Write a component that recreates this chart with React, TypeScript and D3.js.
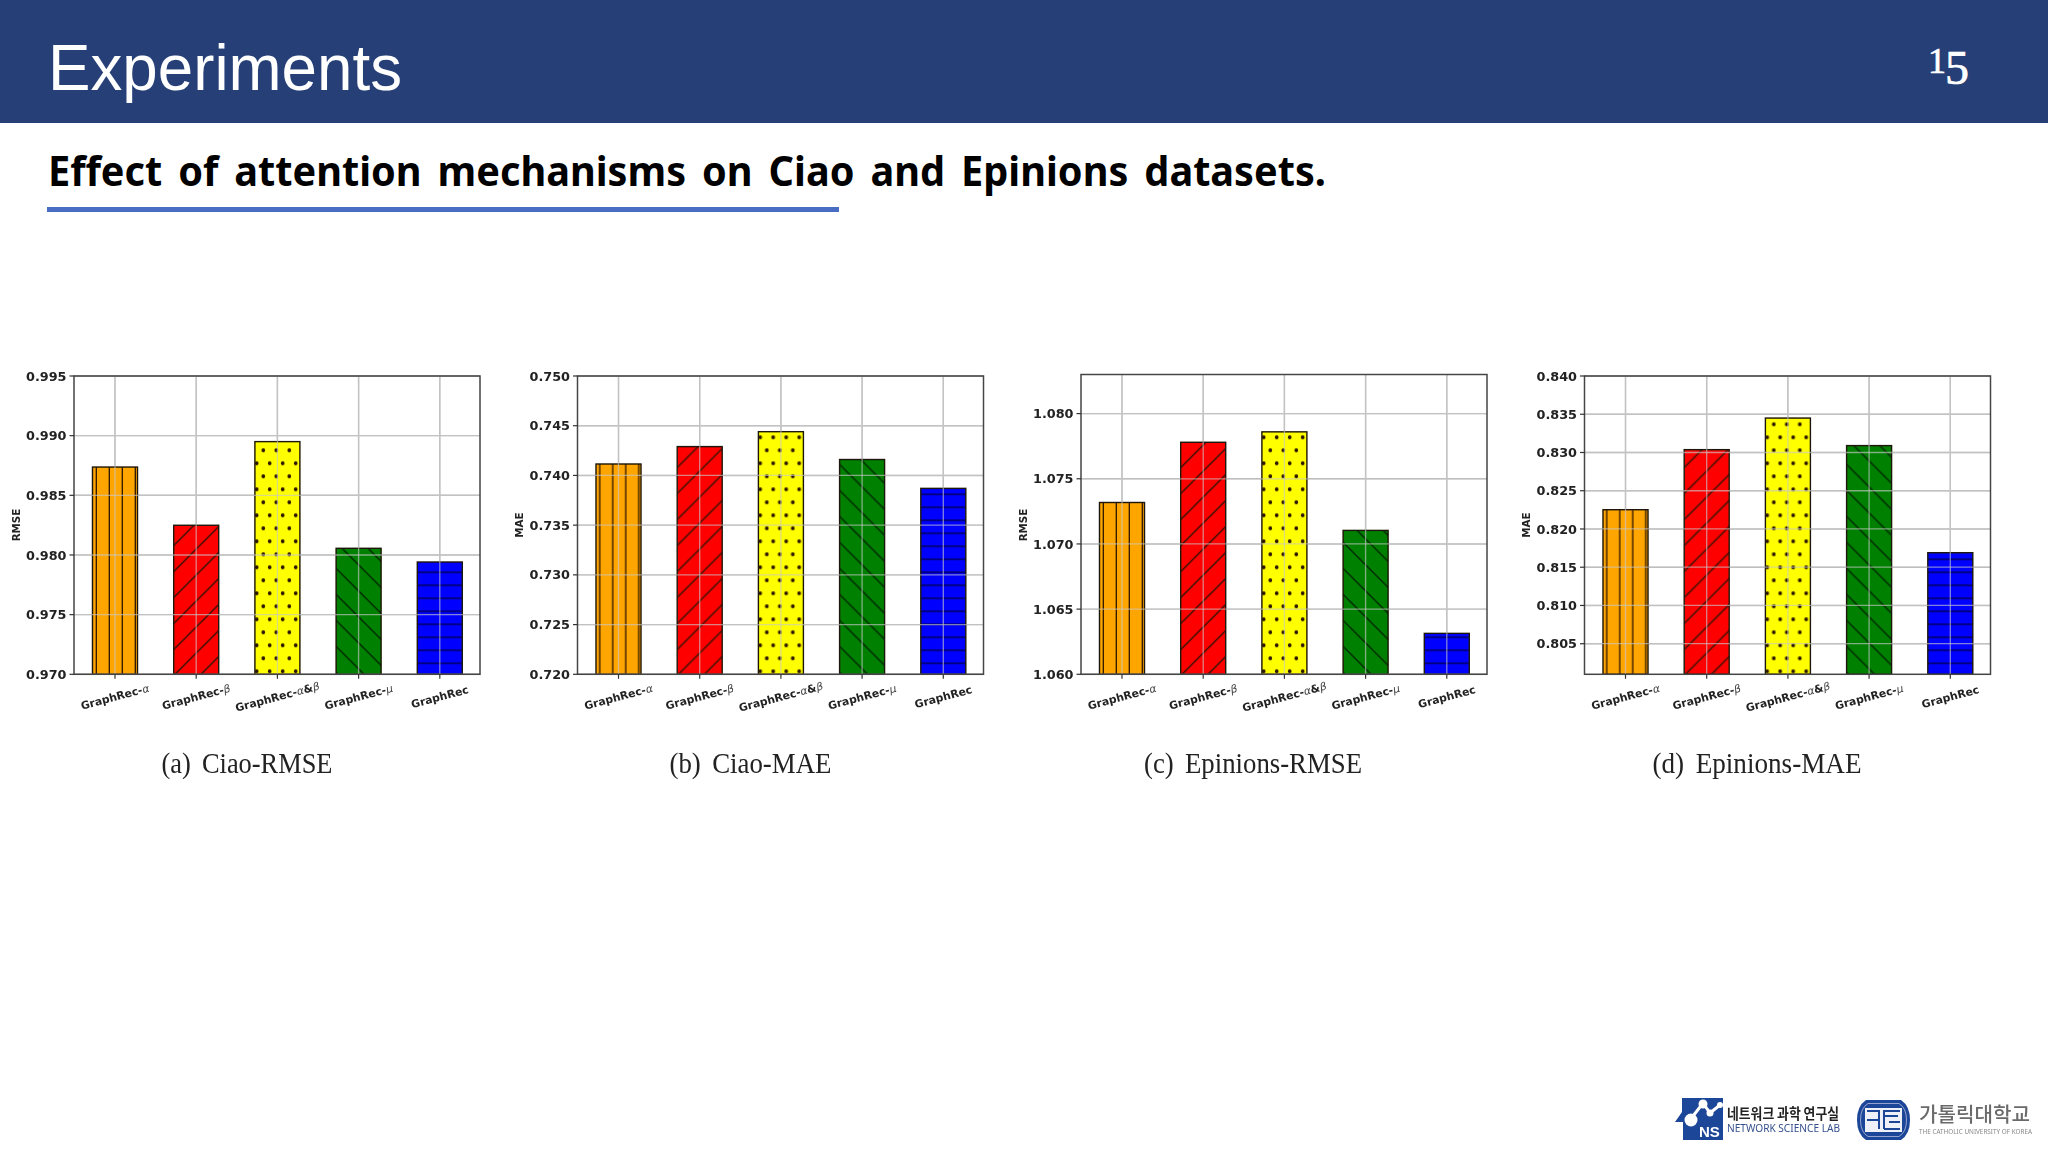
import React from "react";
import * as d3 from "d3";

const categories = ["α", "β", "α&β", "μ", ""];
const barFills = ["#ffa500", "#ff0000", "#ffff00", "#008000", "#0000ff"];
const hatchIds = ["hV", "hF", "hD", "hB", "hH"];

const ciaoRmse = [0.98737, 0.98249, 0.9895, 0.98056, 0.97941];
const ciaoMae = [0.74115, 0.7429, 0.7444, 0.7416, 0.7387];
const epinionsRmse = [1.07318, 1.0778, 1.0786, 1.07104, 1.06314];
const epinionsMae = [0.82252, 0.83037, 0.8345, 0.8309, 0.8169];

const ciaoRmseTicks = [0.97, 0.975, 0.98, 0.985, 0.99, 0.995];
const ciaoMaeTicks = [0.72, 0.725, 0.73, 0.735, 0.74, 0.745, 0.75];
const epinionsRmseTicks = [1.06, 1.065, 1.07, 1.075, 1.08];
const epinionsMaeTicks = [0.805, 0.81, 0.815, 0.82, 0.825, 0.83, 0.835, 0.84];

const panels = [
  { values: ciaoRmse, ticks: ciaoRmseTicks, domain: [0.97, 0.995], ylabel: "RMSE", caption: ["(a)", "Ciao-RMSE"], left: 74, right: 480, top: 376, cx: 247, capW: 171 },
  { values: ciaoMae, ticks: ciaoMaeTicks, domain: [0.72, 0.75], ylabel: "MAE", caption: ["(b)", "Ciao-MAE"], left: 577.5, right: 983.5, top: 376, cx: 750.5, capW: 162 },
  { values: epinionsRmse, ticks: epinionsRmseTicks, domain: [1.06, 1.083], ylabel: "RMSE", caption: ["(c)", "Epinions-RMSE"], left: 1081, right: 1487, top: 374.5, cx: 1253, capW: 218 },
  { values: epinionsMae, ticks: epinionsMaeTicks, domain: [0.801, 0.84], ylabel: "MAE", caption: ["(d)", "Epinions-MAE"], left: 1584.5, right: 1990.5, top: 376, cx: 1757, capW: 209 },
];

const BOTTOM = 674.3;
const BAR_W = 45;
const TEXT = "#222222";
const FONT = "'DejaVu Sans', sans-serif";

function Hatches() {
  const ink = "#2a1400";
  return (
    <defs>
      <filter id="soft" x="-2%" y="-2%" width="104%" height="104%">
        <feGaussianBlur stdDeviation="0.5" />
      </filter>
      <pattern id="hV" width={13} height={13} patternUnits="userSpaceOnUse">
        <line x1={9.3} x2={9.3} y1={0} y2={13} stroke={ink} strokeWidth={1.3} />
      </pattern>
      <pattern id="hH" width={13} height={13} patternUnits="userSpaceOnUse">
        <line x1={0} x2={13} y1={2} y2={2} stroke="#000050" strokeWidth={1.4} />
      </pattern>
      <pattern id="hF" width={26} height={26} patternUnits="userSpaceOnUse">
        <path d="M-3 26L26 -3M-3 52L52 -3" stroke={ink} strokeWidth={1.3} fill="none" />
      </pattern>
      <pattern id="hB" width={26} height={26} patternUnits="userSpaceOnUse">
        <path d="M-3 -3L29 29M-29 -3L29 55M23 -3L55 29" transform="translate(4 0)" stroke="#002000" strokeWidth={1.3} fill="none" />
      </pattern>
      <pattern id="hD" width={13} height={26} patternUnits="userSpaceOnUse">
        <circle cx={0.7} cy={23} r={1.9} fill={ink} />
        <circle cx={13.7} cy={23} r={1.9} fill={ink} />
        <circle cx={7.3} cy={10} r={1.9} fill={ink} />
      </pattern>
    </defs>
  );
}

function Panel({ p }: { p: (typeof panels)[number] }) {
  const width = p.right - p.left;
  const height = BOTTOM - p.top;
  const names = categories.map((_, i) => String(i));
  const x = d3.scalePoint<string>().domain(names).range([0.4, width + 0.4]).padding(0.5);
  const y = d3.scaleLinear().domain(p.domain).range([0, -height]);
  const fmt = d3.format(".3f");
  const grid = "#b8b8b8";
  const overlay = "#c8c8c8";
  return (
    <g transform={`translate(${p.left},${BOTTOM})`}>
      {p.ticks.map((t) => (
        <line key={t} x1={0} x2={width} y1={y(t)} y2={y(t)} stroke={grid} strokeWidth={1.4} />
      ))}
      {names.map((n) => (
        <line key={n} x1={x(n)} x2={x(n)} y1={0} y2={-height} stroke={grid} strokeWidth={1.4} />
      ))}
      {p.values.map((v, i) => {
        const bx = (x(names[i]) as number) - BAR_W / 2;
        return (
          <g key={i}>
            <rect x={bx} y={y(v)} width={BAR_W} height={-y(v)} fill={barFills[i]} />
            <rect x={bx} y={y(v)} width={BAR_W} height={-y(v)} fill={`url(#${hatchIds[i]})`} stroke="#1c1408" strokeWidth={1.4} />
          </g>
        );
      })}
      {p.ticks.map((t) => (
        <line key={t} x1={0} x2={width} y1={y(t)} y2={y(t)} stroke={overlay} strokeOpacity={0.65} strokeWidth={1.3} />
      ))}
      {names.map((n) => (
        <line key={n} x1={x(n)} x2={x(n)} y1={0} y2={-height} stroke={overlay} strokeOpacity={0.65} strokeWidth={1.3} />
      ))}
      <rect x={0} y={-height} width={width} height={height} fill="none" stroke="#444444" strokeWidth={1.5} />
      {p.ticks.map((t) => (
        <g key={t}>
          <line x1={-4.5} x2={0} y1={y(t)} y2={y(t)} stroke="#333" strokeWidth={1.2} />
          <text x={-7.5} y={y(t)} dy="0.36em" textAnchor="end" fontFamily={FONT} fontWeight={700} fontSize={12.8} fill={TEXT}>
            {fmt(t)}
          </text>
        </g>
      ))}
      {names.map((n, i) => (
        <g key={n} transform={`translate(${x(n)},0)`}>
          <line y1={0} y2={4.5} stroke="#333" strokeWidth={1.2} />
          <text y={22.5} dy="0.36em" transform="rotate(-15 0 22.5)" textAnchor="middle" fontFamily={FONT} fontWeight={700} fontSize={10.8} fill={TEXT}>
            {categories[i] ? "GraphRec-" : "GraphRec"}
            {categories[i] === "α&β" ? (
              <>
                <tspan fontWeight={400} fontStyle="italic" fill="#444">α</tspan>&amp;<tspan fontWeight={400} fontStyle="italic" fill="#444">β</tspan>
              </>
            ) : (
              <tspan fontWeight={400} fontStyle="italic" fill="#444">{categories[i]}</tspan>
            )}
          </text>
        </g>
      ))}
      <text transform={`translate(-58,${525 - BOTTOM}) rotate(-90)`} dy="0.36em" textAnchor="middle" fontFamily={FONT} fontWeight={700} fontSize={10.3} fill={TEXT}>
        {p.ylabel}
      </text>
      <text x={p.cx - p.left - p.capW / 2} y={773 - BOTTOM} fontFamily="'Liberation Serif', serif" fontSize={29} fill="#222" style={{ wordSpacing: "5px" }} textLength={p.capW} lengthAdjust="spacingAndGlyphs">
        {p.caption[0]} {p.caption[1]}
      </text>
    </g>
  );
}

function Logos() {
  const cjk = "'Noto Sans CJK KR', sans-serif";
  const navy = "#1f4699";
  return (
    <g filter="url(#soft)">
      <path d="M1682 1098H1723V1140H1683V1122L1675 1122L1682 1112Z" fill={navy} />
      <g stroke="#fff" strokeWidth={3} fill="none">
        <path d="M1690 1120L1703 1103L1710 1113L1720 1105" />
      </g>
      <circle cx={1691} cy={1120} r={6.5} fill="#fff" />
      <circle cx={1703} cy={1104} r={4.5} fill="#fff" />
      <circle cx={1710} cy={1113} r={3.5} fill="#fff" />
      <circle cx={1720} cy={1105} r={3} fill="#fff" />
      <text x={1699} y={1137} fontFamily="'Liberation Sans', sans-serif" fontWeight={700} fontSize={15} fill="#fff">NS</text>
      <text x={1727} y={1119} fontFamily={cjk} fontWeight={700} fontSize={15} fill="#222" textLength={112} lengthAdjust="spacingAndGlyphs">네트워크 과학 연구실</text>
      <text x={1727} y={1132} fontFamily="'Noto Sans', sans-serif" fontSize={11} fill="#34508f" textLength={113} lengthAdjust="spacingAndGlyphs">NETWORK SCIENCE LAB</text>

      <path d="M1866 1100H1901Q1910 1106 1910 1120Q1910 1134 1901 1140H1866Q1857 1134 1857 1120Q1857 1106 1866 1100Z" fill={navy} />
      <path d="M1868 1103.5H1899Q1906.5 1108 1906.5 1120Q1906.5 1132 1899 1136.5H1868Q1860.5 1132 1860.5 1120Q1860.5 1108 1868 1103.5Z" fill="none" stroke="#aebbdc" strokeWidth={0.8} />
      <rect x={1865} y={1108} width={37} height={24} fill="#eef1f8" />
      <path d="M1867 1111H1879V1129M1884 1129V1111H1900M1884 1116H1898M1889 1122H1900M1867 1120H1879M1884 1129H1900" stroke={navy} strokeWidth={2} fill="none" />
      <text x={1919} y={1122} fontFamily={cjk} fontWeight={500} fontSize={20} fill="#6a6a6a" textLength={111} lengthAdjust="spacingAndGlyphs">가톨릭대학교</text>
      <text x={1919} y={1133.5} fontFamily="'Noto Sans', sans-serif" fontSize={6.5} fill="#888" textLength={113} lengthAdjust="spacingAndGlyphs">THE CATHOLIC UNIVERSITY OF KOREA</text>
    </g>
  );
}

export default function App() {
  return (
    <svg width={2048} height={1152} viewBox="0 0 2048 1152" style={{ position: "absolute", left: 0, top: 0, display: "block", background: "#fff" }}>
      <Hatches />
      <rect x={0} y={0} width={2048} height={123} fill="#264077" />
      <text x={48} y={90} fontFamily="'Liberation Sans', sans-serif" fontSize={64} fill="#fff" textLength={354} lengthAdjust="spacingAndGlyphs">Experiments</text>
      <text fontFamily="'Liberation Serif', serif" fill="#fff" stroke="#fff" strokeWidth={0.7}>
        <tspan x={1928} y={73} fontSize={36}>1</tspan>
        <tspan x={1945} y={84} fontSize={48}>5</tspan>
      </text>
      <text x={48} y={186} fontFamily="'Noto Sans', sans-serif" fontWeight={700} fontSize={42} fill="#000" style={{ wordSpacing: "6px" }} textLength={1278} lengthAdjust="spacingAndGlyphs">
        Effect of attention mechanisms on Ciao and Epinions datasets.
      </text>
      <rect x={47} y={207} width={792} height={5} fill="#4a6dc4" />
      <g filter="url(#soft)">
        {panels.map((p) => (
          <Panel key={p.caption[0]} p={p} />
        ))}
      </g>
      <Logos />
    </svg>
  );
}
